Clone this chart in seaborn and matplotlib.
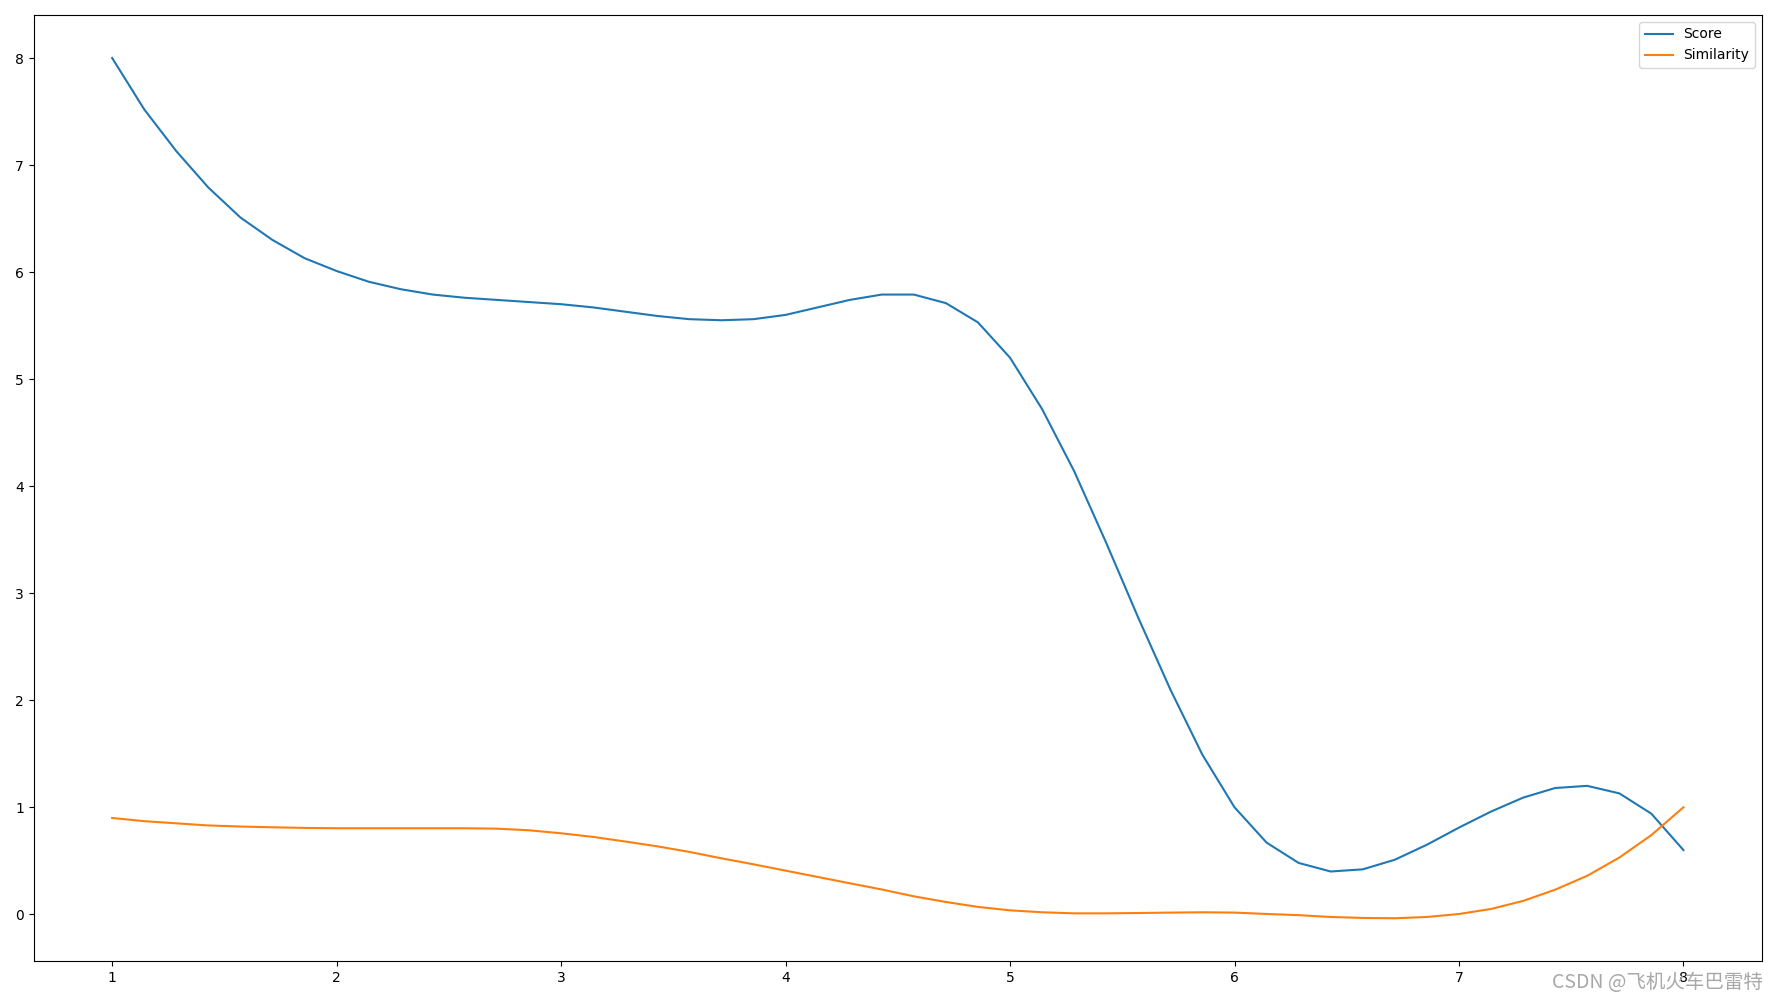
import numpy as np
import pandas as pd
import matplotlib
matplotlib.use("Agg")
import matplotlib.pyplot as plt
import seaborn as sns

x_values = np.linspace(1, 8, 50)

score = [8.00, 7.52, 7.13, 6.79, 6.51, 6.30, 6.13, 6.01, 5.91, 5.84,
         5.79, 5.76, 5.74, 5.72, 5.70, 5.67, 5.63, 5.59, 5.56, 5.55,
         5.56, 5.60, 5.67, 5.74, 5.79, 5.79, 5.71, 5.53, 5.20, 4.72,
         4.14, 3.47, 2.77, 2.10, 1.49, 1.00, 0.67, 0.48, 0.40, 0.42,
         0.51, 0.65, 0.81, 0.96, 1.09, 1.18, 1.20, 1.13, 0.94, 0.60]

similarity = [0.90, 0.87, 0.85, 0.83, 0.82, 0.813, 0.807, 0.804, 0.804, 0.804,
              0.804, 0.804, 0.80, 0.785, 0.757, 0.723, 0.68, 0.635, 0.583, 0.523,
              0.467, 0.408, 0.349, 0.29, 0.232, 0.168, 0.115, 0.069, 0.037, 0.019,
              0.009, 0.009, 0.012, 0.016, 0.019, 0.016, 0.003, -0.008, -0.025, -0.034,
              -0.037, -0.025, 0.003, 0.05, 0.125, 0.23, 0.36, 0.53, 0.74, 1.0]

series_names = ["Score", "Similarity"]

df = pd.DataFrame({"x": x_values, "Score": score, "Similarity": similarity})

plt.rcParams['font.family'] = ['DejaVu Sans', 'Noto Sans CJK SC']

fig, ax = plt.subplots(figsize=(17.77, 10), dpi=100)
colors = ["#1f77b4", "#ff7f0e"]
for name, c in zip(series_names, colors):
    sns.lineplot(data=df, x="x", y=name, ax=ax, color=c, label=name, linewidth=1.5)

ax.set_xlabel("")
ax.set_ylabel("")
ax.legend(loc="upper right")

fig.tight_layout()
fig.text(0.992, 0.007, "CSDN @飞机火车巴雷特", ha="right", va="bottom",
         fontsize=14, color="#a8a8a8",
         family=["Noto Sans CJK SC", "DejaVu Sans"])
fig.savefig("out.png", dpi=100)
